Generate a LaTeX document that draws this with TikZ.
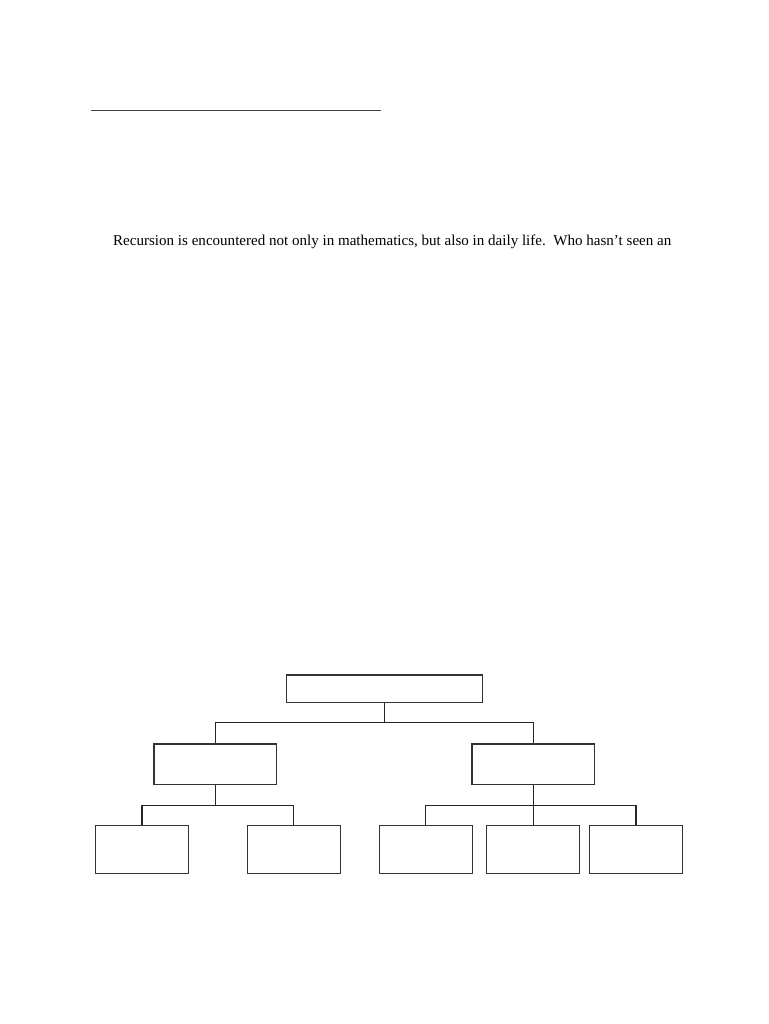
\documentclass[tikz,border=0pt]{standalone}
\usepackage{fontspec}
\setmainfont{Liberation Serif}
\begin{document}
\begin{tikzpicture}[x=1pt,y=-1pt,
  box/.style={draw=black!80, line width=1.2pt, inner sep=0pt, rectangle},
  rootbox/.style={box, minimum width=196pt, minimum height=27.7pt},
  midbox/.style={box, minimum width=122.5pt, minimum height=40.3pt},
  leafbox/.style={box, minimum width=93pt, minimum height=47.5pt},
  conn/.style={draw=black!85, line width=1.2pt},
  rule/.style={draw=black!75, line width=1.4pt}]
\useasboundingbox (0,0) rectangle (768,1024);
\fill[white] (0,0) rectangle (768,1024);

% top rule
\coordinate (ruleA) at (91,110.7);
\coordinate (ruleB) at (381,110.7);
\draw[rule] (ruleA) -- (ruleB);

% sentence
\node[anchor=base west, inner sep=0pt, font=\fontsize{15.05}{17}\selectfont] (txt) at (113,245.6)
  {Recursion is encountered not only in mathematics, but also in daily life.\ \ Who hasn’t seen an};

% tree
\node[rootbox] (root) at (384.4,688.9) {};
\node[midbox] (ml) at (215.2,764.2) {};
\node[midbox] (mr) at (533.3,764.2) {};
\node[leafbox] (a) at (141.9,849.5) {};
\node[leafbox] (b) at (293.6,849.5) {};
\node[leafbox] (c) at (425.6,849.5) {};
\node[leafbox] (d) at (533.3,849.5) {};
\node[leafbox] (e) at (636,849.5) {};

\coordinate (j1) at (384.4,722.7);
\coordinate (j2) at (215.2,805.3);
\coordinate (j3) at (533.3,805.3);

\draw[conn] (root.south) -- (j1);
\draw[conn] (j1) -| (ml.north);
\draw[conn] (j1) -| (mr.north);
\draw[conn] (ml.south) -- (j2);
\draw[conn] (j2) -| (a.north);
\draw[conn] (j2) -| (b.north);
\draw[conn] (mr.south) -- (j3);
\draw[conn] (j3) -| (c.north);
\draw[conn] (j3) -| (e.north);
\draw[conn] (j3) -- (d.north);
\end{tikzpicture}
\end{document}
